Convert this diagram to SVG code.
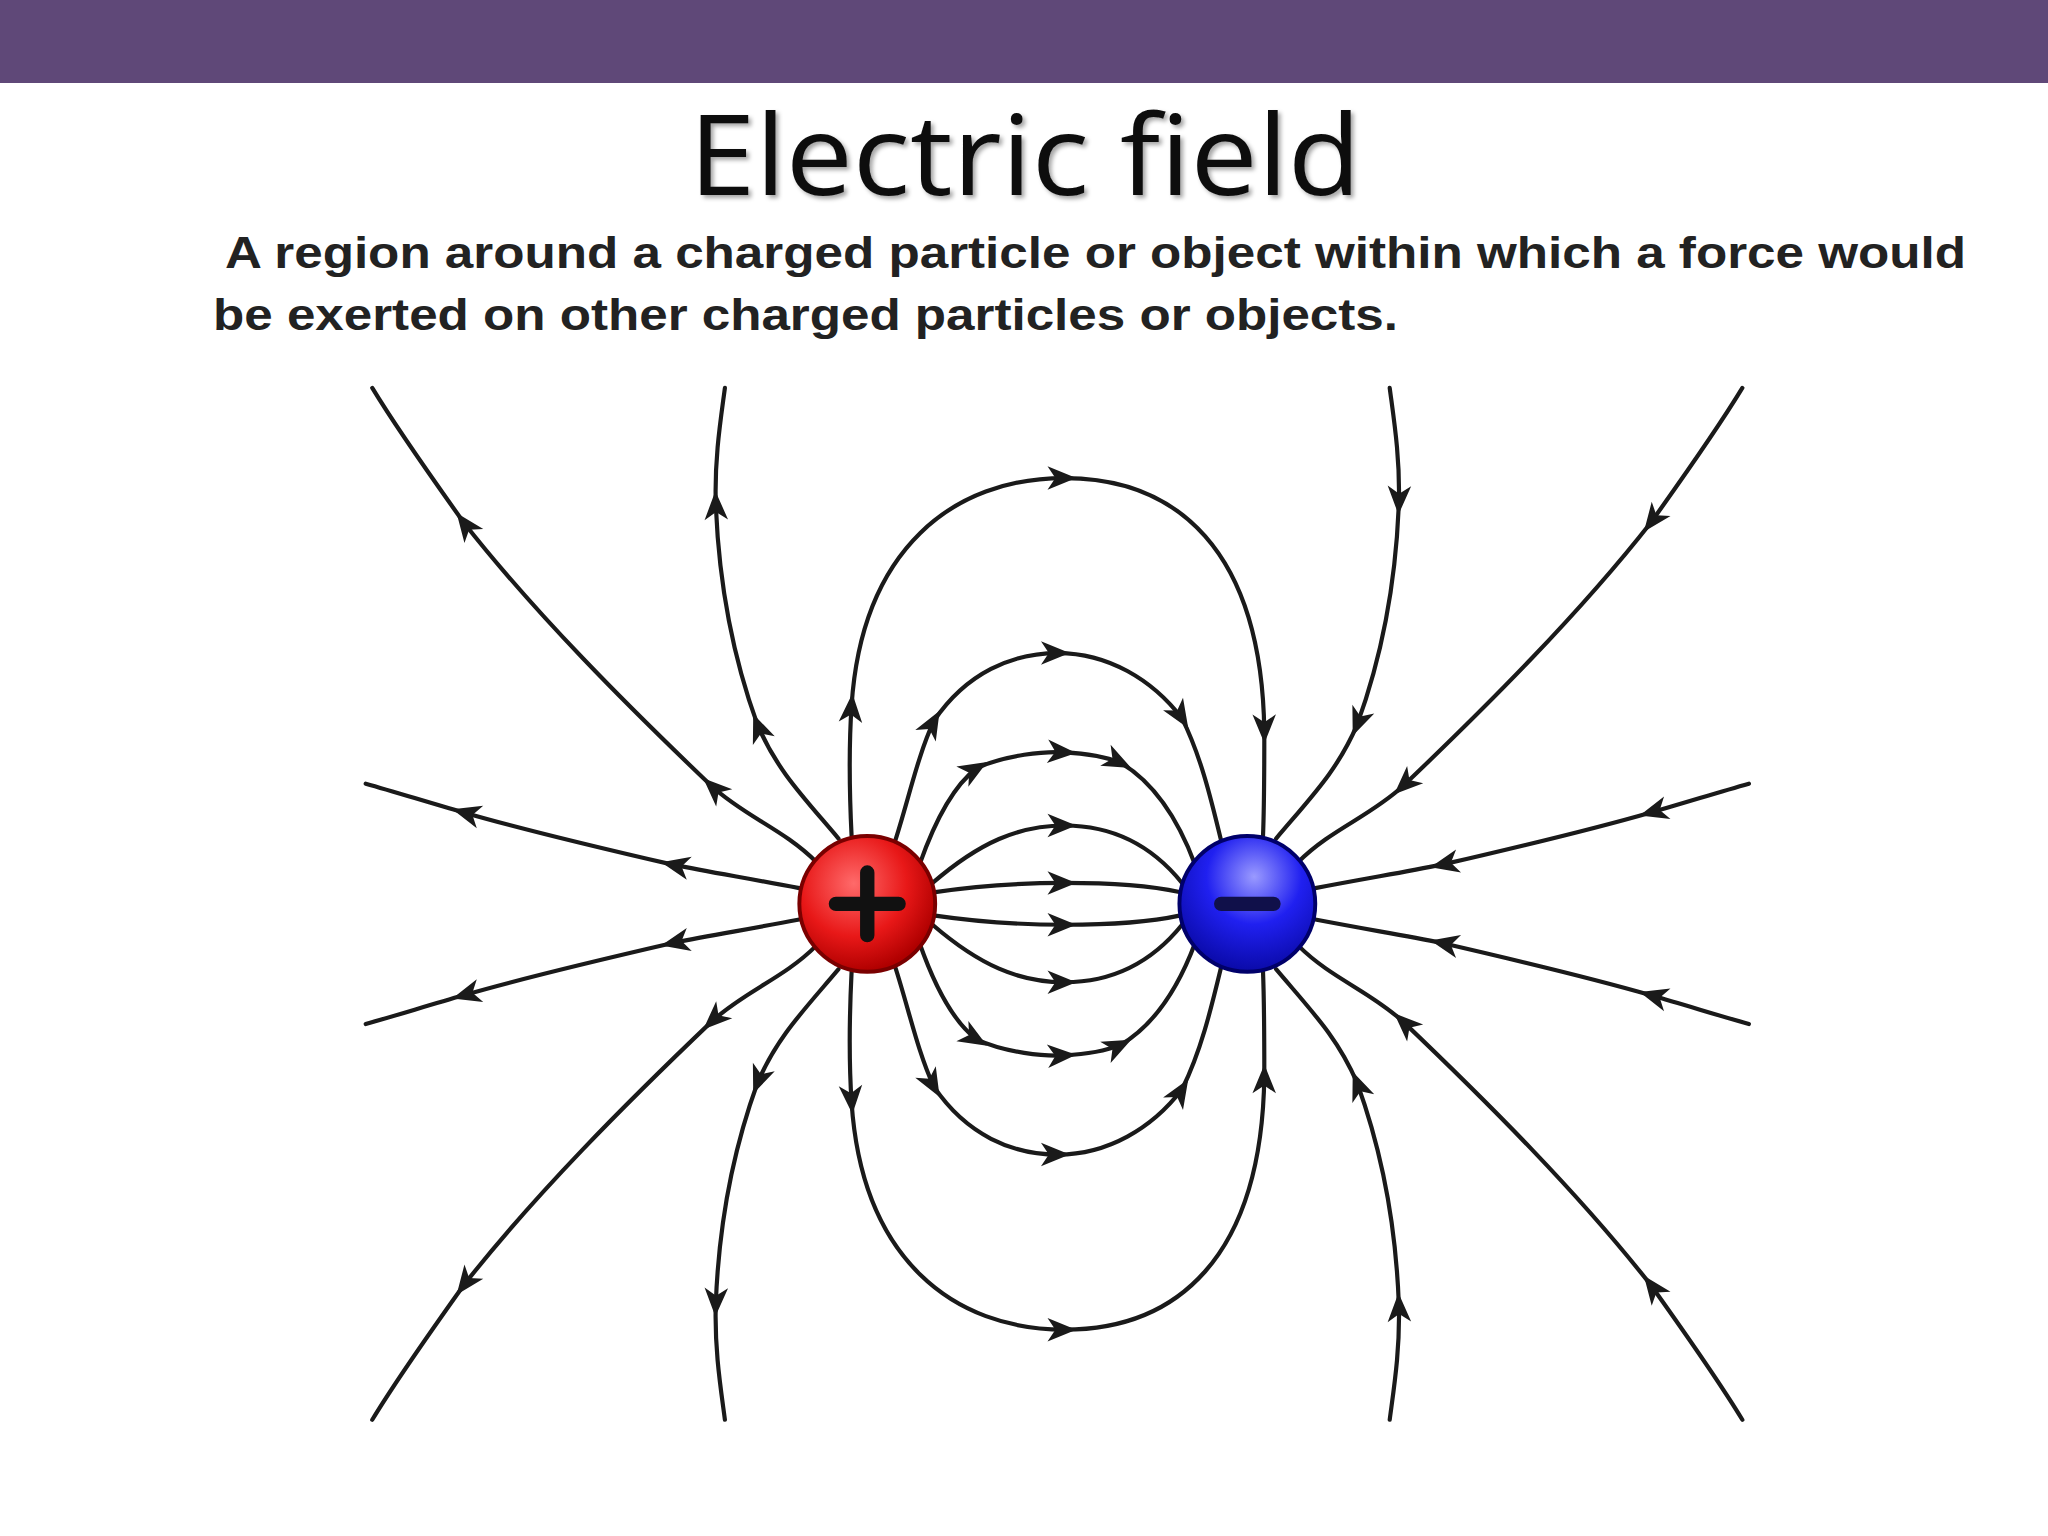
<svg xmlns="http://www.w3.org/2000/svg" xmlns:xlink="http://www.w3.org/1999/xlink" width="2048" height="1536" viewBox="0 0 2048 1536">
<style>
.fl{fill:none;stroke:#1a1a1a;stroke-width:3.2;stroke-linecap:round}
.t1{font-family:"Open Sans","Liberation Sans",sans-serif;font-size:112px;fill:#111}
.t2{font-family:"Liberation Sans",Arial,sans-serif;font-weight:bold;font-size:44px;fill:#222}
</style>
<defs>
<marker id="out" markerUnits="userSpaceOnUse" markerWidth="34" markerHeight="34" refX="0" refY="0" viewBox="-17 -17 34 34" orient="auto"><path d="M-13,-9 L9,0 L-13,9 L-7,0 z" fill="#1a1a1a"/></marker>
<marker id="in" markerUnits="userSpaceOnUse" markerWidth="34" markerHeight="34" refX="0" refY="0" viewBox="-17 -17 34 34" orient="auto"><path d="M13,-9 L-9,0 L13,9 L7,0 z" fill="#1a1a1a"/></marker>
<radialGradient id="rg" cx="0.4" cy="0.35" r="0.65"><stop offset="0" stop-color="#ff6a6a"/><stop offset="0.6" stop-color="#e81818"/><stop offset="1" stop-color="#b00000"/></radialGradient>
<radialGradient id="bg" cx="0.55" cy="0.3" r="0.7"><stop offset="0" stop-color="#9a9aff"/><stop offset="0.5" stop-color="#2020f0"/><stop offset="1" stop-color="#0a0aa8"/></radialGradient>
<filter id="sh"><feDropShadow dx="3" dy="3" stdDeviation="2" flood-color="#000" flood-opacity="0.35"/></filter>
<g id="lt">
<path class="fl" d="M625,660 C600,635 570,625 545,602 C480,540 410,470 355,400 C330,365 305,330 285,297"/>
<path class="fl" d="M642,642 C615,610 595,590 580,555 C560,500 550,440 548,385 C547,350 552,320 555,297"/>
<path class="fl" d="M612,680 C570,672 545,668 515,662 C450,647 400,635 355,622 C330,615 305,607 280,600"/>
</g>
<g id="loops">
<path class="fl" d="M652,640 C650,600 650,570 652,540 C660,420 730,366 815,366 C900,366 966,420 968,560 C968,590 968,615 967,640"/>
<path class="fl" d="M684,648 C695,615 702,580 715,552 C740,515 775,500 810,500 C848,500 882,520 905,550 C920,580 928,615 936,648"/>
<path class="fl" d="M704,662 C718,622 732,600 748,588 C770,578 800,575 815,576 C835,577 848,580 858,584 C885,600 903,630 915,662"/>
<path class="fl" d="M714,676 C750,645 780,632 815,632 C850,632 880,645 905,676"/>
<path class="fl" d="M716,683 C750,678 780,676 815,676 C850,676 880,678 903,683"/>
</g>
</defs>
<rect x="0" y="0" width="2048" height="83" fill="#5f4878"/>
<text class="t1" x="1025" y="195" text-anchor="middle" textLength="672" lengthAdjust="spacingAndGlyphs" filter="url(#sh)">Electric field</text>
<text class="t2" x="225" y="268" textLength="1741" lengthAdjust="spacingAndGlyphs">A region around a charged particle or object within which a force would</text>
<text class="t2" x="213" y="330" textLength="1185" lengthAdjust="spacingAndGlyphs">be exerted on other charged particles or objects.</text>
<g transform="scale(1.30612)">
<g id="connectors">
<use xlink:href="#lt" marker-mid="url(#out)"/>
<use xlink:href="#lt" transform="translate(0,1384) scale(1,-1)" marker-mid="url(#out)"/>
<use xlink:href="#lt" transform="translate(1619,0) scale(-1,1)" marker-mid="url(#in)"/>
<use xlink:href="#lt" transform="translate(1619,1384) scale(-1,-1)" marker-mid="url(#in)"/>
<use xlink:href="#loops" marker-mid="url(#out)"/>
<use xlink:href="#loops" transform="translate(0,1384) scale(1,-1)" marker-mid="url(#out)"/>
</g>
<g id="plus">
<circle cx="664" cy="692" r="52" fill="url(#rg)" stroke="#7a0000" stroke-width="3"/>
<path d="M640,692 H688 M664,668 V716" stroke="#111" stroke-width="11" stroke-linecap="round"/>
</g>
<g id="minus">
<circle cx="955" cy="692" r="52" fill="url(#bg)" stroke="#00006a" stroke-width="3"/>
<path d="M935,692 H975" stroke="#10104a" stroke-width="11" stroke-linecap="round"/>
</g>
</g>
</svg>
